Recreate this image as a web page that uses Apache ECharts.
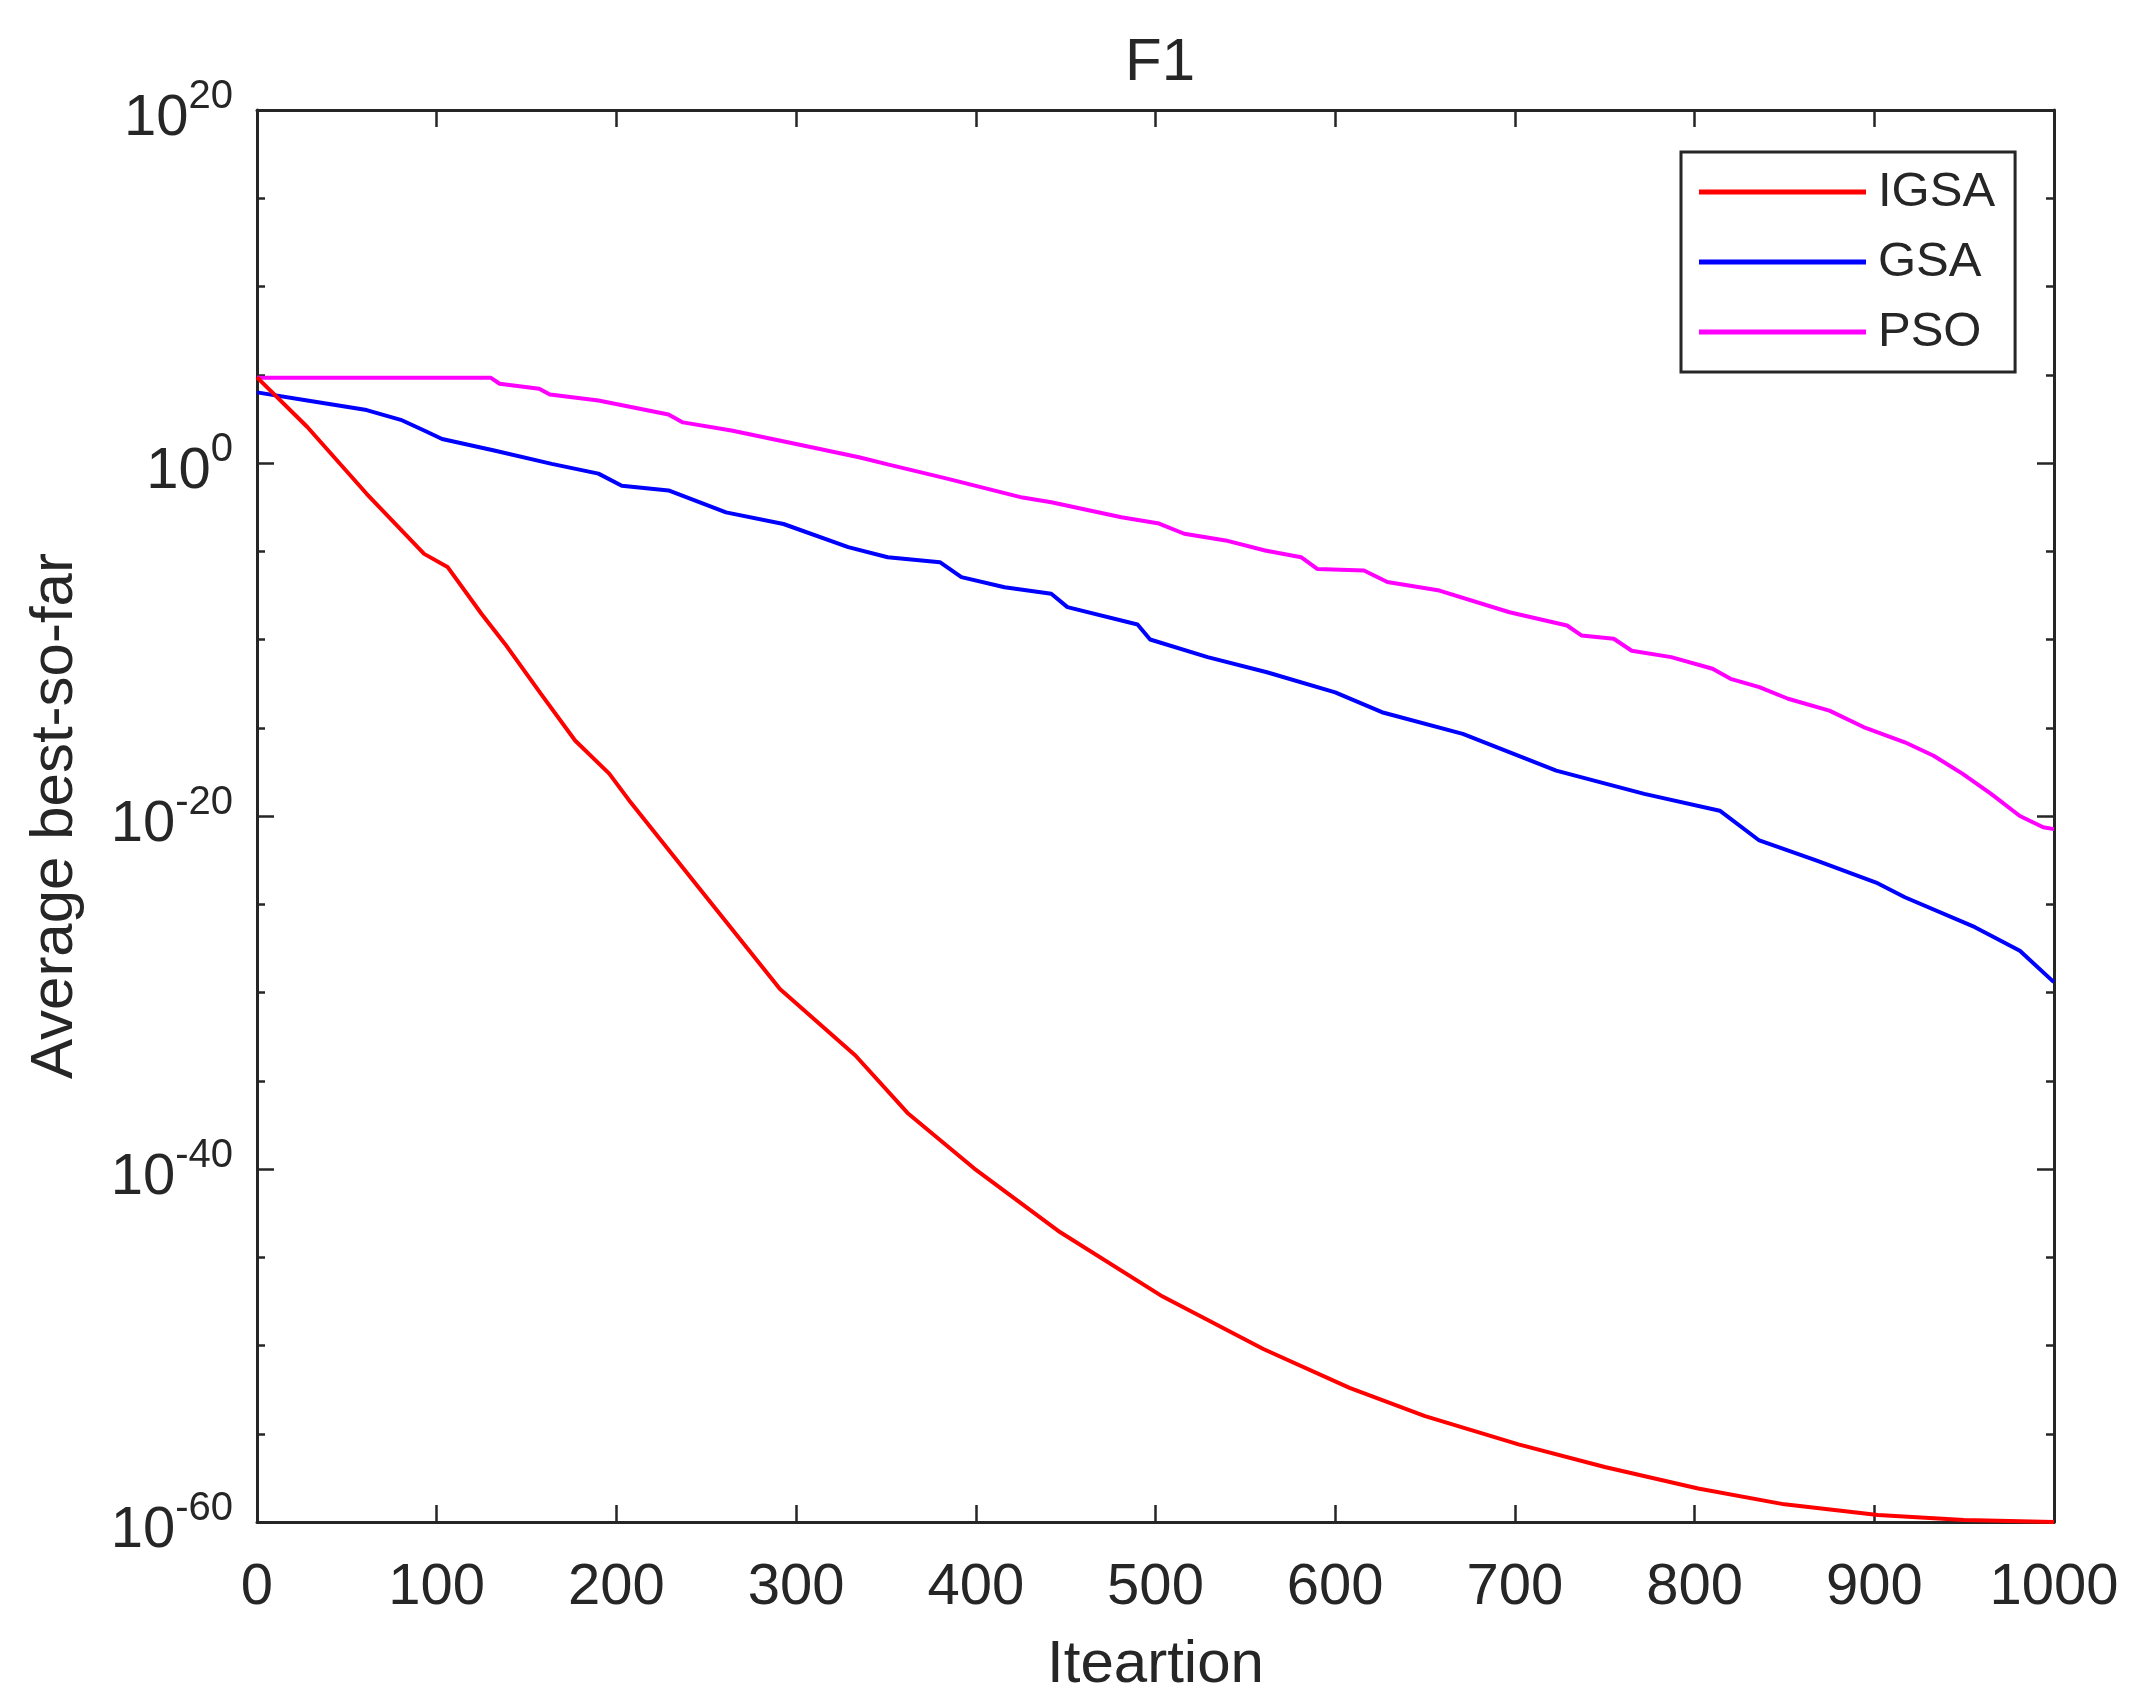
<!DOCTYPE html>
<html>
<head>
<meta charset="utf-8">
<script src="https://cdn.jsdelivr.net/npm/echarts@6/dist/echarts.min.js"></script>
<style>
html,body{margin:0;padding:0;background:#fff;}
#chart{width:2145px;height:1705px;}
</style>
</head>
<body>
<div id="chart"></div>
<script>
// ---- data ----
var seriesNames = ['IGSA', 'GSA', 'PSO'];
var xTicks = [0, 100, 200, 300, 400, 500, 600, 700, 800, 900, 1000];
var yTickExponents = [-60, -40, -20, 0, 20];

var igsaIter = [0, 28, 61, 93, 106, 125, 138, 158, 177, 196, 207, 216, 248, 291, 333, 362, 399, 447, 504, 560, 608, 650, 702, 750, 802, 850, 902, 950, 1000];
var igsaVal  = [7.1e4, 1.1e2, 1.8e-2, 7.1e-6, 1.3e-6, 2.8e-9, 5.6e-11, 8.3e-14, 1.9e-16, 2.5e-18, 7.9e-20, 5.5e-21, 4.7e-25, 1.6e-30, 2.7e-34, 1.5e-37, 1.1e-40, 2.6e-44, 5.9e-48, 6.3e-51, 4.0e-53, 1.0e-54, 2.5e-56, 1.3e-57, 7.9e-59, 1.0e-59, 2.5e-60, 1.3e-60, 1.0e-60];

var gsaIter = [0, 28, 61, 80, 93, 103, 132, 164, 190, 203, 229, 261, 293, 329, 351, 380, 392, 416, 442, 451, 490, 497, 529, 562, 600, 626, 671, 723, 772, 814, 836, 868, 901, 917, 956, 981, 999, 1000];
var gsaVal  = [1.0e4, 3.5e3, 1.0e3, 2.8e2, 6.9e1, 2.3e1, 5.1, 8.9e-1, 2.5e-1, 5.2e-2, 2.8e-2, 1.6e-3, 3.5e-4, 1.7e-5, 4.6e-6, 2.4e-6, 3.4e-7, 9.1e-8, 3.9e-8, 6.8e-9, 7.1e-10, 1.0e-10, 1.0e-11, 1.4e-12, 1.0e-13, 7.6e-15, 4.5e-16, 3.7e-18, 1.8e-19, 2.0e-20, 4.1e-22, 3.0e-23, 1.7e-24, 2.5e-25, 5.0e-27, 2.3e-28, 4.7e-30, 4.0e-30];

var psoIter = [0, 130, 135, 157, 163, 190, 229, 237, 264, 300, 335, 351, 384, 426, 442, 481, 502, 516, 539, 561, 581, 590, 616, 629, 658, 697, 729, 737, 755, 765, 787, 810, 820, 836, 852, 875, 894, 917, 933, 949, 965, 981, 994, 1000];
var psoVal  = [6.8e4, 6.8e4, 3.1e4, 1.6e4, 7.6e3, 3.5e3, 5.6e2, 2.0e2, 6.9e1, 1.2e1, 2.1, 8.3e-1, 1.3e-1, 1.1e-2, 6.0e-3, 8.5e-4, 3.7e-4, 9.8e-5, 4.1e-5, 1.1e-5, 4.6e-6, 1.0e-6, 8.1e-7, 1.8e-7, 5.9e-8, 3.5e-9, 6.2e-10, 1.7e-10, 1.1e-10, 2.3e-11, 1.0e-11, 2.2e-12, 5.9e-13, 2.0e-13, 4.4e-14, 9.3e-15, 1.1e-15, 1.5e-16, 2.6e-17, 2.5e-18, 1.8e-19, 1.0e-20, 2.3e-21, 1.8e-21];

// The y axis is a base-10 logarithmic scale; ECharts' log scale rounds values
// below 1e-20 to zero, so the axis works in decades (log10 of each value).
function pairs(xs, ys) { return xs.map(function (x, i) { return [x, Math.log10(ys[i])]; }); }

var TXT = '#262626';
var FONT = '"Liberation Sans", Arial, Helvetica, sans-serif';

var chart = echarts.init(document.getElementById('chart'), null, {renderer: 'canvas'});

var axisLineStyle = {color: TXT, width: 3};
var tickStyle = {color: TXT, width: 2.5};

function yLabel(e) {
  if (yTickExponents.indexOf(e) < 0) return '';
  return '{b|10}{s|' + e + '}';
}

var option = {
  animation: false,
  backgroundColor: '#fff',
  title: {
    text: 'F1',
    left: 1155,
    top: 28,
    textAlign: 'center',
    textStyle: {fontFamily: FONT, fontSize: 60, fontWeight: 'normal', color: TXT}
  },
  grid: {left: 257, right: 91, top: 110, bottom: 183, containLabel: false},
  legend: {
    data: seriesNames,
    orient: 'vertical',
    left: 1681,
    top: 152,
    icon: 'rect',
    itemWidth: 167,
    itemHeight: 5,
    itemGap: 20,
    padding: [15, 20, 15, 18],
    borderColor: TXT,
    borderWidth: 3,
    backgroundColor: '#fff',
    textStyle: {fontFamily: FONT, fontSize: 49, color: TXT, lineHeight: 50, padding: [0, 0, 0, 7]}
  },
  xAxis: [{
    type: 'value',
    min: 0, max: 1000, interval: 100,
    name: 'Iteartion',
    nameLocation: 'middle',
    nameGap: 113,
    nameTextStyle: {fontFamily: FONT, fontSize: 60, color: TXT},
    axisLine: {show: true, onZero: false, lineStyle: axisLineStyle},
    axisTick: {show: true, inside: true, length: 17, lineStyle: tickStyle},
    axisLabel: {fontFamily: FONT, fontSize: 58, color: TXT, margin: 37,
      formatter: function (v) { return xTicks.indexOf(v) >= 0 ? String(v) : ''; }},
    splitLine: {show: false}
  }, {
    type: 'value',
    position: 'top',
    min: 0, max: 1000, interval: 100,
    axisLine: {show: true, onZero: false, lineStyle: axisLineStyle},
    axisTick: {show: true, inside: true, length: 17, lineStyle: tickStyle},
    axisLabel: {show: false},
    splitLine: {show: false}
  }],
  yAxis: [{
    type: 'value',
    min: -60, max: 20,
    interval: 20,
    name: 'Average best-so-far',
    nameLocation: 'middle',
    nameGap: 172,
    nameTextStyle: {fontFamily: FONT, fontSize: 60, color: TXT},
    axisLine: {show: true, onZero: false, lineStyle: axisLineStyle},
    axisTick: {show: true, inside: true, length: 17, lineStyle: tickStyle},
    minorTick: {show: true, splitNumber: 4, length: 8, lineStyle: tickStyle},
    axisLabel: {
      margin: 24,
      formatter: yLabel,
      rich: {
        b: {fontFamily: FONT, fontSize: 58, color: TXT, lineHeight: 58, padding: [18, 0, 0, 0]},
        s: {fontFamily: FONT, fontSize: 40, color: TXT, lineHeight: 40, padding: [0, 0, 26, 0]}
      }
    },
    splitLine: {show: false},
    minorSplitLine: {show: false}
  }, {
    type: 'value',
    position: 'right',
    min: -60, max: 20,
    interval: 20,
    axisLine: {show: true, onZero: false, lineStyle: axisLineStyle},
    axisTick: {show: true, inside: true, length: 17, lineStyle: tickStyle},
    minorTick: {show: true, splitNumber: 4, length: 8, lineStyle: tickStyle},
    axisLabel: {show: false},
    splitLine: {show: false},
    minorSplitLine: {show: false}
  }],
  series: [{
    name: 'IGSA', type: 'line', showSymbol: false, symbol: 'none',
    data: pairs(igsaIter, igsaVal),
    itemStyle: {color: '#ff0000'}, lineStyle: {color: '#ff0000', width: 4}, z: 4
  }, {
    name: 'GSA', type: 'line', showSymbol: false, symbol: 'none',
    data: pairs(gsaIter, gsaVal),
    itemStyle: {color: '#0000ff'}, lineStyle: {color: '#0000ff', width: 4}, z: 3
  }, {
    name: 'PSO', type: 'line', showSymbol: false, symbol: 'none',
    data: pairs(psoIter, psoVal),
    itemStyle: {color: '#ff00ff'}, lineStyle: {color: '#ff00ff', width: 4}, z: 2
  }]
};

chart.setOption(option);
</script>
</body>
</html>
